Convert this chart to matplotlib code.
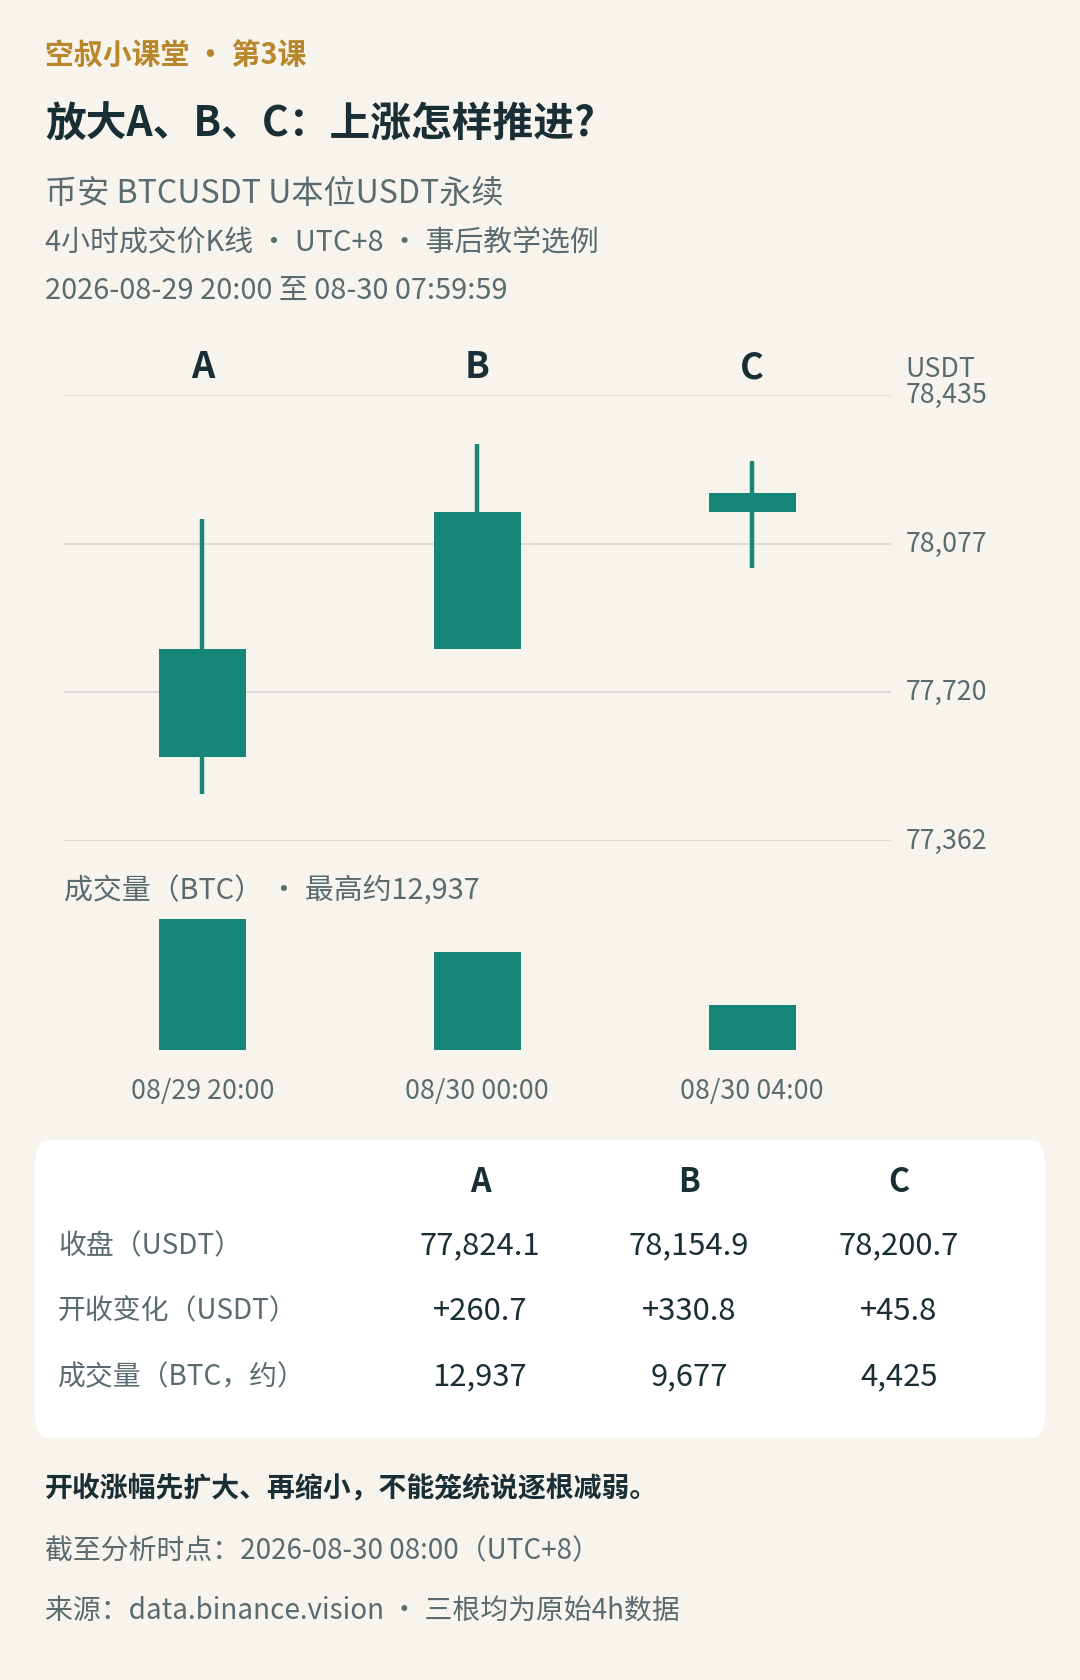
import matplotlib
matplotlib.use("Agg")
import matplotlib.pyplot as plt
from matplotlib.patches import FancyBboxPatch

plt.rcParams['font.family'] = ['Noto Sans CJK SC', 'DejaVu Sans']

labels = ["A", "B", "C"]
opens = [77563.4, 77824.1, 78154.9]
closes = [77824.1, 78154.9, 78200.7]
highs = [78138, 78319, 78278]
lows = [77475, 77824.1, 78020]
volumes = [12937, 9677, 4425]
times = ["08/29 20:00", "08/30 00:00", "08/30 04:00"]
yticks = [77362, 77720, 78077, 78435]
row_names = ["收盘（USDT）", "开收变化（USDT）", "成交量（BTC，约）"]
row_vals = [["77,824.1", "78,154.9", "78,200.7"],
            ["+260.7", "+330.8", "+45.8"],
            ["12,937", "9,677", "4,425"]]

BG = "#f7f4ee"; TEAL = "#178577"; DARK = "#1a2e35"; GREY = "#5a6b70"; ORANGE = "#b8862b"
W, H = 1008, 1568
S = 1080 / 1008

fig = plt.figure(figsize=(10.8, 16.8), dpi=100, facecolor=BG)

def fx(x): return x / W
def fy(y): return 1 - y / H
def fs(px): return px * S * 0.72  # px height -> pt

def T(x, y, s, size, color=DARK, weight="normal", ha="left", va="center"):
    fig.text(fx(x), fy(y), s, fontsize=fs(size), color=color, weight=weight, ha=ha, va=va)

T(42, 52, "空叔小课堂 • 第3课", 27, ORANGE, "bold")
T(42, 116, "放大A、B、C：上涨怎样推进?", 38, DARK, "bold")
T(42, 181, "币安 BTCUSDT U本位USDT永续", 30, GREY)
T(42, 226, "4小时成交价K线 · UTC+8 · 事后教学选例", 27, GREY)
T(42, 272, "2026-08-29 20:00 至 08-30 07:59:59", 27, GREY)

x0 = -129 / 256.5
x1 = (832 - 189) / 256.5
bw = 81 / 256.5
xs = list(range(len(labels)))

ax = fig.add_axes([fx(60), fy(785), fx(832) - fx(60), fy(369) - fy(785)])
ax.set_facecolor("none")
ax.set_xlim(x0, x1)
ax.set_ylim(yticks[0], yticks[-1])
for yv in yticks:
    ax.axhline(yv, color="#d8d8d4", lw=1.3, zorder=0)
for i in xs:
    ax.vlines(i, lows[i], highs[i], color=TEAL, lw=3.2, zorder=2)
    ax.bar(i, closes[i] - opens[i], bottom=opens[i], width=bw, color=TEAL, zorder=3)
    ax.text(i, 1.02, labels[i], transform=ax.get_xaxis_transform(), ha="center", va="bottom",
            fontsize=fs(34), weight="bold", color=DARK)
for sp in ax.spines.values():
    sp.set_visible(False)
ax.set_xticks([])
ax.yaxis.tick_right()
ax.set_yticks(yticks)
ax.set_yticklabels([f"{v:,}" for v in yticks])
ax.tick_params(axis="y", length=0, pad=13 * S * 0.72, labelsize=fs(25), labelcolor=GREY)
for lbl in ax.get_yticklabels():
    lbl.set_verticalalignment("center")
T(845, 345, "USDT", 25, GREY)

ax2 = fig.add_axes([fx(60), fy(980), fx(832) - fx(60), fy(858) - fy(980)])
ax2.set_facecolor("none")
ax2.set_xlim(x0, x1)
ax2.set_ylim(0, max(volumes))
ax2.bar(xs, volumes, width=bw, color=TEAL)
for sp in ax2.spines.values():
    sp.set_visible(False)
ax2.set_yticks([])
ax2.set_xticks(xs)
ax2.set_xticklabels(times)
ax2.tick_params(axis="x", length=0, pad=20, labelsize=fs(25), labelcolor=GREY)
T(60, 832, "成交量（BTC） · 最高约12,937", 27, GREY)

card = FancyBboxPatch((fx(33), fy(1342)), fx(975) - fx(33), fy(1064) - fy(1342),
                      boxstyle="round,pad=0,rounding_size=0.012", transform=fig.transFigure,
                      facecolor="white", edgecolor="none")
fig.patches.append(card)
colx = [448, 643, 839]
for c, l in zip(colx, labels):
    T(c, 1104, l, 30, DARK, "bold", ha="center")
rowy = [1163, 1224, 1285]
for y, name, vals in zip(rowy, row_names, row_vals):
    T(54, y, name, 26, GREY)
    for c, v in zip(colx, vals):
        T(c, y, v, 29, DARK, ha="center")

T(42, 1389, "开收涨幅先扩大、再缩小，不能笼统说逐根减弱。", 26, DARK, "bold")
T(42, 1448, "截至分析时点：2026-08-30 08:00（UTC+8）", 26, GREY)
T(42, 1504, "来源：data.binance.vision · 三根均为原始4h数据", 26, GREY)

fig.savefig("out.png", dpi=100, facecolor=BG)
